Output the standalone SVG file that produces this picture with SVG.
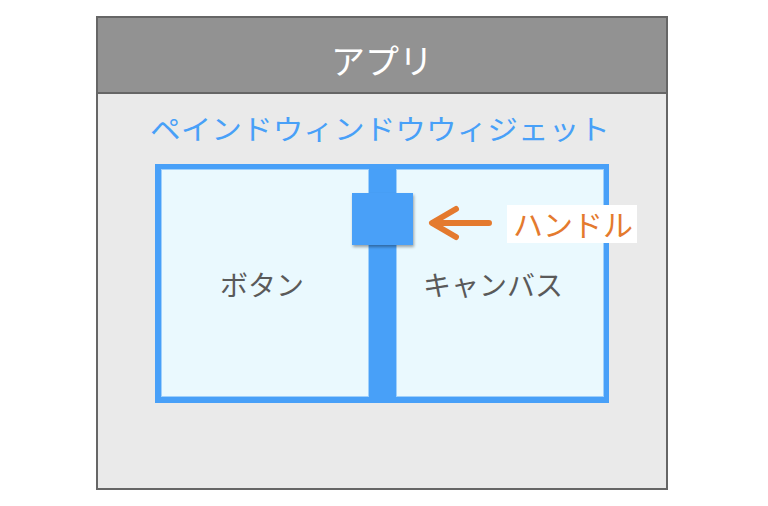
<svg xmlns="http://www.w3.org/2000/svg" width="768" height="506" viewBox="0 0 768 506">
<defs>
<style>
text{font-family:"Noto Sans CJK JP","Noto Sans",sans-serif;text-anchor:middle}
.panel{fill:#eaf9fe;stroke:#9fd0fb;stroke-width:1}
.lbl{fill:#5a5a5a;font-size:28px}
.arrow{fill:none;stroke:#e47a2e;stroke-width:6;stroke-linecap:round;stroke-linejoin:round}
</style>
<filter id="sh" x="-20%" y="-20%" width="150%" height="150%">
<feDropShadow dx="1" dy="2" stdDeviation="1.5" flood-color="#000" flood-opacity="0.35"/>
</filter>
</defs>
<rect width="768" height="506" fill="#fff"/>
<g id="app">
<rect x="97" y="17" width="570" height="472" fill="#eaeaea" stroke="#666" stroke-width="2"/>
<rect x="97" y="17" width="570" height="76" fill="#929292" stroke="#666" stroke-width="2"/>
<text x="382" y="74" font-size="34" fill="#fff">アプリ</text>
</g>
<g id="paint-window">
<text x="380" y="140" font-size="28" fill="#48a0f8" textLength="460" lengthAdjust="spacingAndGlyphs">ペインドウィンドウウィジェット</text>
<rect x="155" y="164" width="454" height="239" fill="#48a0f8"/>
</g>
<g id="button">
<rect x="161.5" y="169.5" width="207" height="227" class="panel"/>
<text x="262" y="296" class="lbl">ボタン</text>
</g>
<g id="canvas">
<rect x="396.5" y="169.5" width="207" height="227" class="panel"/>
<text x="493" y="296" class="lbl">キャンバス</text>
</g>
<g id="handle">
<rect x="352" y="193" width="61" height="52" fill="#48a0f8" filter="url(#sh)"/>
</g>
<g id="handle-label">
<rect x="507" y="205" width="130" height="38" fill="#fff"/>
<text x="573" y="236" font-size="30" fill="#e47a2e" textLength="120" lengthAdjust="spacingAndGlyphs">ハンドル</text>
</g>
<g id="connectors">
<path class="arrow" d="M489 223 L434 223 M456 209 L432 223 L456 237"/>
</g>
</svg>
